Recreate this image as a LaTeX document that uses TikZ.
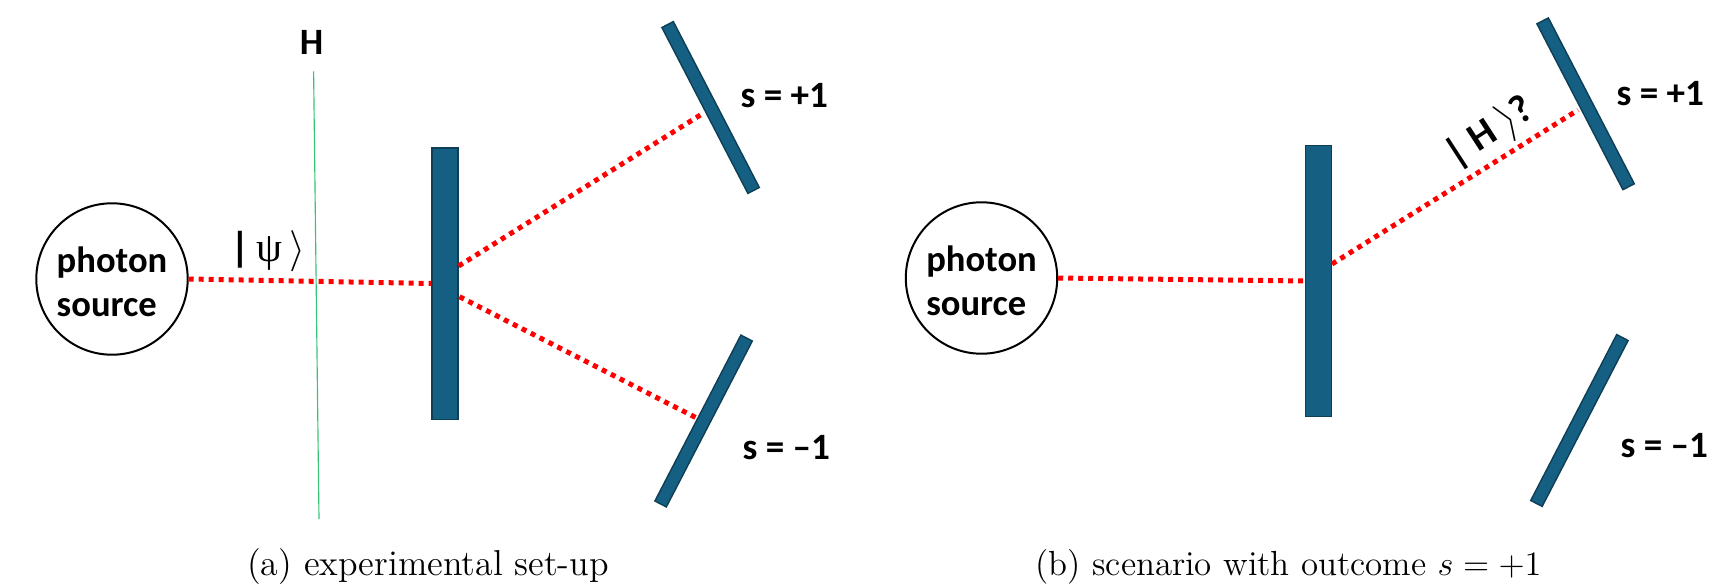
\documentclass[tikz,border=0pt]{standalone}
\usepackage{amsmath,amsfonts,amssymb}
\usepackage{fontspec}
\usepackage{tikz}
\newfontfamily\labelfont{Carlito}
\newfontfamily\psifont{Liberation Serif}
\definecolor{plateblue}{HTML}{156082}
\definecolor{plateedge}{HTML}{0E3F56}
\definecolor{raygreen}{HTML}{35C477}
\tikzset{
  labeltext/.style={font=\labelfont\bfseries\fontsize{13}{16}\selectfont},
  source/.style={draw,circle,line width=.7pt,minimum size=53pt,inner sep=0,align=left,
                 font=\labelfont\bfseries\fontsize{12.8}{15.6}\selectfont},
  plate/.style={draw=plateedge,fill=plateblue,line width=.5pt,minimum width=9pt,minimum height=95pt,inner sep=0},
  mirror/.style={draw=plateedge,fill=plateblue,line width=.5pt,minimum width=65.4pt,minimum height=4.5pt,inner sep=0},
  ray/.style={red,line width=1.75pt,dash pattern=on 1.75pt off 1.75pt},
  caption/.style={font=\fontsize{12.6}{14}\selectfont,anchor=base}
}
\begin{document}
\begin{tikzpicture}[x=.35pt,y=-.35pt]
        \useasboundingbox (0,0) rectangle (1725,583);

        % left panel
        \coordinate (Hup) at (313.6,71.4);
        \coordinate (Hdown) at (319,519);
        \draw[raygreen,line width=.4pt] (Hup) -- (Hdown);
        \node (Hlabel)     at (311.7,42)   [labeltext] {H};
        \node (Asource)    at (112,279)    [source] {\rule{0pt}{11pt}photon\\source};
        \node (Aplate)     at (445,283.5)  [plate] {};
        \node (Amirrorup)  at (710.6,107.5) [mirror,rotate=-62.6] {};
        \node (Amirrordn)  at (703.6,421)  [mirror,rotate=62.6] {};
        \node (Apsi)       at (268,251)    [font=\fontsize{14.5}{18}\selectfont] {\labelfont\bfseries|\,\psifont\mdseries ψ\,$\rangle$};
        \node (Aplus)      at (740,96)     [labeltext,anchor=west,inner sep=0] {s = +1};
        \node (Aminus)     at (742,448)    [labeltext,anchor=west,inner sep=0] {s = –1};
        \node (Acaption)   at (428,575)    [caption] {(a) experimental set-up};

        \coordinate (Aupout) at (458.6,266);
        \coordinate (Aupin) at (700.4,115);
        \coordinate (Adnout) at (459.5,296.7);
        \coordinate (Adnin) at (696.6,418);
        \draw[ray] (Asource.east) -- (Aplate.west);
        \draw[ray] (Aupout) -- (Aupin);
        \draw[ray] (Adnout) -- (Adnin);

        % right panel
        \node (Bsource)    at (981.5,278)  [source] {\rule{0pt}{11pt}photon\\source};
        \node (Bplate)     at (1318.5,281) [plate] {};
        \node (Bmirrorup)  at (1585.6,103.8) [mirror,rotate=-62.6] {};
        \node (Bmirrordn)  at (1579.4,420.5) [mirror,rotate=62.6] {};
        \node (Bket)       at (1490,133)   [labeltext,rotate=33,font=\labelfont\bfseries\fontsize{14}{16}\selectfont] {| H $\rangle$?};
        \node (Bplus)      at (1616,93.5)  [labeltext,anchor=west,inner sep=0] {s = +1};
        \node (Bminus)     at (1620,445.5) [labeltext,anchor=west,inner sep=0] {s = –1};
        \node (Bcaption)   at (1288.5,575) [caption,font=\fontsize{12.2}{14}\selectfont] {(b) scenario with outcome $s=+1$};

        \coordinate (Bupout) at (1332,264);
        \coordinate (Bupin) at (1578,110);
        \draw[ray] (Bsource.east) -- (Bplate.west);
        \draw[ray] (Bupout) -- (Bupin);
\end{tikzpicture}
\end{document}
